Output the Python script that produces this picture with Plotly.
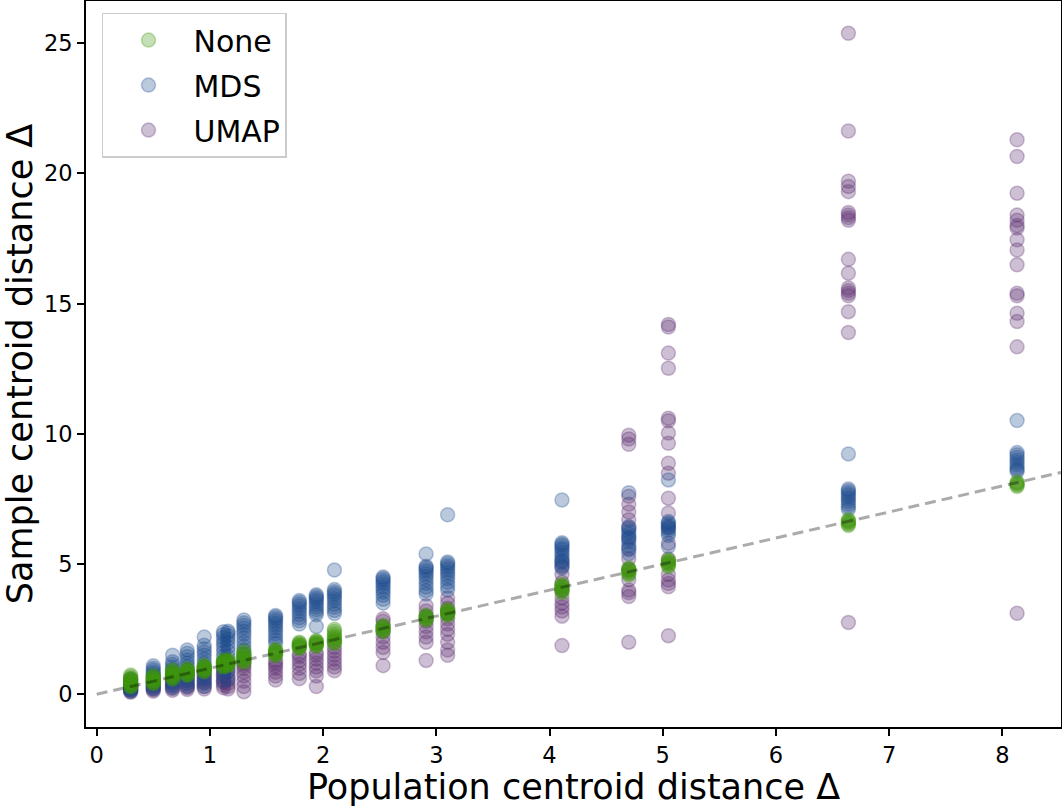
import plotly.graph_objects as go

# Population centroid distance for each column of points
X_COLS = [0.30, 0.50, 0.67, 0.80, 0.95, 1.12, 1.16, 1.30, 1.58, 1.79,
          1.94, 2.10, 2.53, 2.91, 3.10, 4.11, 4.70, 5.05, 6.64, 8.13]

# Sample centroid distance per column, for each embedding method
NONE_Y = [
    [0.28, 0.31, 0.34, 0.37, 0.40, 0.43, 0.46, 0.50, 0.54, 0.58, 0.62, 0.68, 0.74],
    [0.40, 0.44, 0.47, 0.50, 0.52, 0.55, 0.58, 0.61, 0.64, 0.68, 0.72],
    [0.58, 0.62, 0.65, 0.68, 0.71, 0.74, 0.77, 0.80, 0.84, 0.88, 0.94],
    [0.72, 0.75, 0.78, 0.81, 0.84, 0.87, 0.90, 0.94, 0.98],
    [0.86, 0.89, 0.92, 0.95, 0.98, 1.01, 1.04, 1.08, 1.12],
    [1.04, 1.08, 1.11, 1.14, 1.17, 1.20, 1.23, 1.27, 1.31],
    [1.10, 1.13, 1.16, 1.19, 1.22, 1.25, 1.29, 1.33],
    [1.22, 1.26, 1.30, 1.34, 1.38, 1.42, 1.47, 1.52, 1.58, 1.66],
    [1.48, 1.52, 1.56, 1.59, 1.62, 1.65, 1.68, 1.72],
    [1.76, 1.80, 1.83, 1.86, 1.89, 1.92, 1.96, 2.00],
    [1.84, 1.88, 1.91, 1.94, 1.97, 2.00, 2.03, 2.07],
    [1.95, 1.99, 2.03, 2.07, 2.12, 2.18, 2.25, 2.33, 2.42, 2.50],
    [2.40, 2.44, 2.48, 2.52, 2.56, 2.60, 2.65],
    [2.84, 2.88, 2.92, 2.96, 3.00, 3.04],
    [3.02, 3.06, 3.10, 3.14, 3.18, 3.22, 3.26],
    [3.90, 3.96, 4.01, 4.06, 4.10, 4.14, 4.18, 4.22],
    [4.58, 4.63, 4.68, 4.72, 4.76, 4.80, 4.85],
    [4.90, 4.95, 5.00, 5.04, 5.08, 5.12, 5.16],
    [6.48, 6.53, 6.58, 6.62, 6.66, 6.70],
    [7.98, 8.03, 8.07, 8.11, 8.15],
]

MDS_Y = [
    [0.12, 0.16, 0.20, 0.24, 0.28, 0.32, 0.36, 0.42, 0.48, 0.55, 0.60],
    [0.20, 0.28, 0.36, 0.44, 0.52, 0.60, 0.68, 0.76, 0.84, 0.92, 1.00, 1.10],
    [0.25, 0.35, 0.45, 0.55, 0.65, 0.75, 0.85, 0.95, 1.05, 1.15, 1.25, 1.50],
    [0.30, 0.42, 0.54, 0.66, 0.80, 0.94, 1.08, 1.20, 1.32, 1.45, 1.58, 1.70],
    [0.30, 0.45, 0.60, 0.75, 0.90, 1.05, 1.20, 1.35, 1.50, 1.62, 1.75, 1.88, 2.20],
    [0.50, 0.75, 1.00, 1.25, 1.45, 1.62, 1.78, 1.92, 2.05, 2.18, 2.30, 2.40],
    [0.60, 0.90, 1.20, 1.45, 1.65, 1.82, 1.98, 2.12, 2.25, 2.35, 2.42],
    [1.40, 1.55, 1.70, 1.85, 2.00, 2.15, 2.30, 2.42, 2.55, 2.65, 2.75, 2.85],
    [1.95, 2.08, 2.20, 2.32, 2.44, 2.55, 2.65, 2.74, 2.82, 2.90, 2.97, 3.03],
    [2.70, 2.82, 2.94, 3.06, 3.18, 3.28, 3.38, 3.46, 3.53, 3.60],
    [2.60, 3.05, 3.15, 3.25, 3.35, 3.45, 3.55, 3.63, 3.70, 3.76, 3.82],
    [3.10, 3.22, 3.34, 3.46, 3.58, 3.68, 3.78, 3.86, 3.94, 4.02, 4.77],
    [3.50, 3.65, 3.80, 3.92, 4.02, 4.12, 4.22, 4.30, 4.38, 4.45, 4.50],
    [3.85, 3.98, 4.12, 4.26, 4.40, 4.52, 4.63, 4.72, 4.80, 4.87, 4.92, 5.39],
    [4.00, 4.15, 4.30, 4.44, 4.56, 4.67, 4.77, 4.86, 4.94, 5.02, 5.08, 6.89],
    [4.85, 4.95, 5.05, 5.15, 5.25, 5.35, 5.45, 5.55, 5.62, 5.70, 5.76, 5.82, 7.46],
    [5.40, 5.55, 5.70, 5.85, 5.95, 6.05, 6.15, 6.25, 6.35, 6.44, 7.74],
    [5.67, 6.10, 6.20, 6.30, 6.38, 6.45, 6.52, 6.58, 6.63, 8.23],
    [7.10, 7.20, 7.30, 7.40, 7.50, 7.58, 7.66, 7.74, 7.82, 7.88, 9.23],
    [8.55, 8.62, 8.70, 8.80, 8.90, 9.00, 9.10, 9.20, 9.28, 10.51],
]

UMAP_Y = [
    [0.08, 0.12, 0.16, 0.20, 0.25, 0.30, 0.35],
    [0.12, 0.17, 0.22, 0.28, 0.34, 0.40],
    [0.15, 0.22, 0.30, 0.38, 0.46, 0.55],
    [0.18, 0.25, 0.32, 0.40, 0.50, 0.60, 0.70],
    [0.20, 0.30, 0.40, 0.50, 0.60, 0.70, 0.80],
    [0.25, 0.35, 0.45, 0.55, 0.65, 0.75, 0.85, 0.95],
    [0.20, 0.30, 0.42, 0.55, 0.70, 0.85, 1.00],
    [0.10, 0.30, 0.50, 0.70, 0.85, 1.00, 1.10, 1.20],
    [0.55, 0.70, 0.85, 1.00, 1.10, 1.20, 1.30],
    [0.60, 0.80, 1.00, 1.15, 1.30, 1.45, 1.55],
    [0.30, 0.70, 0.90, 1.05, 1.20, 1.35, 1.50, 1.60],
    [0.90, 1.05, 1.20, 1.35, 1.50, 1.65, 1.80],
    [1.10, 1.60, 1.80, 2.00, 2.20, 2.40, 2.60, 2.80, 2.90],
    [1.30, 2.00, 2.20, 2.40, 2.60, 2.80, 3.00, 3.20, 3.40],
    [1.50, 1.70, 2.00, 2.30, 2.50, 2.70, 2.90, 3.10, 3.30, 3.50, 3.70],
    [1.87, 3.00, 3.20, 3.35, 3.50, 3.70, 4.00, 4.30, 4.60, 4.90, 5.10],
    [2.00, 3.75, 3.90, 4.00, 4.40, 4.80, 5.20, 5.60, 6.00, 6.40, 6.70,
     7.00, 7.30, 7.60, 9.60, 9.80, 9.95],
    [2.25, 4.13, 4.25, 4.39, 4.60, 5.20, 5.80, 6.40, 6.96, 7.53, 8.49,
     8.87, 9.64, 10.03, 10.50, 10.60, 12.52, 13.10, 14.10, 14.20],
    [2.76, 13.89, 14.69, 15.30, 15.40, 15.50, 15.60, 16.17, 16.70, 18.20,
     18.30, 18.40, 18.50, 19.30, 19.50, 19.70, 21.63, 25.38],
    [3.11, 13.34, 14.31, 14.63, 15.30, 15.40, 16.49, 17.06, 17.45, 17.90,
     18.00, 18.20, 18.40, 19.24, 20.65, 21.29],
]

METHODS = ["None", "MDS", "UMAP"]
COLORS = {"None": (63, 150, 12), "MDS": (30, 76, 142), "UMAP": (92, 46, 112)}
SERIES = {"None": NONE_Y, "MDS": MDS_Y, "UMAP": UMAP_Y}

# identity reference line y = x
LINE_X = [0.0, 8.6]
LINE_Y = [0.0, 8.6]


def flatten(cols):
    xs, ys = [], []
    for xv, col in zip(X_COLS, cols):
        for yv in col:
            xs.append(xv)
            ys.append(yv)
    return xs, ys


fig = go.Figure()
draw_order = ["UMAP", "MDS", "None"]
for name in draw_order:
    xs, ys = flatten(SERIES[name])
    r, g, b = COLORS[name]
    fig.add_trace(go.Scatter(
        x=xs, y=ys, mode="markers", name=name, legendgroup=name,
        legendrank=METHODS.index(name) + 1,
        marker=dict(size=14, color=f"rgba({r},{g},{b},0.3)",
                    line=dict(width=1.5, color=f"rgba({r},{g},{b},0.3)")),
    ))

fig.add_trace(go.Scatter(
    x=LINE_X, y=LINE_Y, mode="lines", showlegend=False,
    line=dict(color="rgba(0,0,0,0.33)", width=3, dash="11px,6px"),
    hoverinfo="skip",
))

font = "DejaVu Sans"
fig.update_layout(
    width=1062, height=807,
    margin=dict(l=86, r=1, t=1, b=80),
    plot_bgcolor="white", paper_bgcolor="white",
    font=dict(family=font, color="black"),
    showlegend=True,
    legend=dict(
        x=0.0164, y=0.984, xanchor="left", yanchor="top",
        bgcolor="rgba(255,255,255,0.8)", bordercolor="#cccccc", borderwidth=1.5,
        font=dict(size=30, family=font),
        itemwidth=80, tracegroupgap=3,
    ),
    xaxis=dict(
        range=[-0.0945, 8.518], tickvals=[0, 1, 2, 3, 4, 5, 6, 7, 8],
        showgrid=False, zeroline=False, showline=True, linecolor="black",
        linewidth=1.6, mirror=True, ticks="outside", ticklen=7, tickwidth=1.6,
        tickcolor="black", tickfont=dict(size=22.5, family=font),
        automargin=False,
        title=dict(text="Population centroid distance Δ",
                   font=dict(size=35, family=font), standoff=6),
    ),
    yaxis=dict(
        range=[-1.256, 26.62], tickvals=[0, 5, 10, 15, 20, 25],
        showgrid=False, zeroline=False, showline=True, linecolor="black",
        linewidth=1.6, mirror=True, ticks="outside", ticklen=7, tickwidth=1.6,
        tickcolor="black", tickfont=dict(size=22.5, family=font),
        automargin=False,
        title=dict(text="Sample centroid distance Δ",
                   font=dict(size=35, family=font), standoff=6),
    ),
)

fig.write_html(
    "out.html",
    config={"displayModeBar": False},
    post_script="document.body.style.margin='0';"
                "document.body.style.overflow='hidden';",
)
